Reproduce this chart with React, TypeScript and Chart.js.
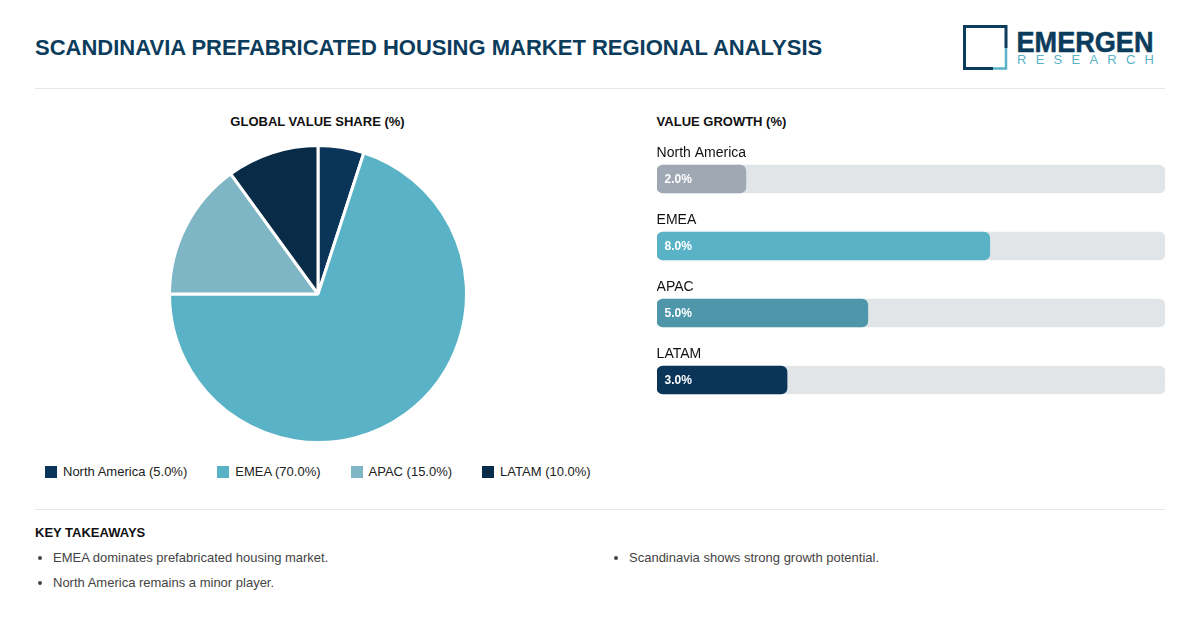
import React, { useEffect, useRef } from 'react';
import { Chart, registerables } from 'chart.js';

Chart.register(...registerables);

const FONT = '"Liberation Sans", Arial, sans-serif';

const title = 'SCANDINAVIA PREFABRICATED HOUSING MARKET REGIONAL ANALYSIS';

const regions = ['North America', 'EMEA', 'APAC', 'LATAM'];
const shareValues = [5, 70, 15, 10];
const shareColors = ['#0a3558', '#5ab2c6', '#7fb6c6', '#082c47'];

const growthValues = [2, 8, 5, 3];
// bar lengths as drawn in the picture, percent of the track
const growthFill = [17.5, 65.5, 41.5, 25.6];
const growthTrack = [100, 100, 100, 100];
const growthColors = ['#9fa8b3', '#5ab2c6', '#4e97aa', '#0a3558'];

const takeawaysLeft = [
  'EMEA dominates prefabricated housing market.',
  'North America remains a minor player.',
];
const takeawaysRight = ['Scandinavia shows strong growth potential.'];

const box = (left: number, top: number, extra: React.CSSProperties = {}): React.CSSProperties => ({
  position: 'absolute',
  left,
  top,
  whiteSpace: 'nowrap',
  ...extra,
});

// region name above each bar, value inside it
const barLabels = {
  id: 'barLabels',
  afterDatasetsDraw(chart: Chart) {
    const { ctx } = chart;
    const bars = chart.getDatasetMeta(0).data;
    ctx.save();
    ctx.textBaseline = 'middle';
    bars.forEach((bar: any, i: number) => {
      ctx.textAlign = 'left';
      ctx.font = `14px ${FONT}`;
      ctx.fillStyle = '#111111';
      ctx.fillText(regions[i], -0.4, bar.y - 26);
      ctx.font = `bold 12px ${FONT}`;
      ctx.fillStyle = '#ffffff';
      ctx.fillText(`${growthValues[i].toFixed(1)}%`, 7.6, bar.y + 1);
    });
    ctx.restore();
  },
};

const ShareChart: React.FC = () => {
  const ref = useRef<HTMLCanvasElement>(null);

  useEffect(() => {
    if (!ref.current) return;
    const chart = new Chart(ref.current, {
      type: 'pie',
      data: {
        labels: regions,
        datasets: [
          {
            data: shareValues,
            backgroundColor: shareColors,
            borderColor: '#ffffff',
            borderWidth: 3,
          },
        ],
      },
      options: {
        responsive: false,
        animation: false,
        layout: { padding: 0 },
        plugins: { legend: { display: false }, tooltip: { enabled: false } },
      },
    });
    return () => chart.destroy();
  }, []);

  return <canvas ref={ref} width={300} height={300} style={box(168, 144, { display: 'block' })} />;
};

const GrowthChart: React.FC = () => {
  const ref = useRef<HTMLCanvasElement>(null);

  useEffect(() => {
    if (!ref.current) return;
    const chart = new Chart(ref.current, {
      type: 'bar',
      data: {
        labels: regions,
        datasets: [
          {
            data: growthFill,
            backgroundColor: growthColors,
            borderRadius: 6,
            borderSkipped: false,
            barThickness: 28,
            order: 0,
          },
          {
            data: growthTrack,
            backgroundColor: '#e2e5e8',
            borderRadius: 6,
            borderSkipped: false,
            barThickness: 28,
            order: 1,
          },
        ],
      },
      options: {
        indexAxis: 'y',
        responsive: false,
        animation: false,
        layout: { padding: { top: 5.5, bottom: 6.5, left: 0, right: 0 } },
        scales: {
          x: { display: false, min: 0, max: 100, stacked: false },
          y: { display: false, stacked: true },
        },
        plugins: { legend: { display: false }, tooltip: { enabled: false } },
      },
      plugins: [barLabels],
    });
    return () => chart.destroy();
  }, []);

  return <canvas ref={ref} width={508} height={280} style={box(657, 140, { display: 'block' })} />;
};

const Logo: React.FC = () => (
  <svg width={200} height={50} style={box(961, 23)}>
    <path d="M45 25 V3.5 H3.5 V45.5 H32" fill="none" stroke="#0c3c5c" strokeWidth={3} />
    <path d="M45 25 V45.5 H32" fill="none" stroke="#5ab2c6" strokeWidth={2.5} />
    <text x={55.5} y={29} textLength={137} lengthAdjust="spacingAndGlyphs" fontFamily={FONT} fontWeight="bold" fontSize={29} fill="#0c3c5c" stroke="#0c3c5c" strokeWidth={0.5}>
      EMERGEN
    </text>
    <text x={56} y={41} textLength={137} fontFamily={FONT} fontSize={13} fill="#5ab2c6">
      RESEARCH
    </text>
  </svg>
);

const Takeaways: React.FC<{ items: string[]; left: number }> = ({ items, left }) => (
  <ul style={box(left, 545, { margin: 0, paddingLeft: 18, fontSize: 13, color: '#444444', lineHeight: '25px' })}>
    {items.map(t => (
      <li key={t}>{t}</li>
    ))}
  </ul>
);

export default function App() {
  useEffect(() => {
    document.body.style.margin = '0';
  }, []);

  return (
    <div style={{ position: 'relative', width: 1200, height: 620, background: '#ffffff', fontFamily: FONT, overflow: 'hidden' }}>
      <div style={box(35, 34, { fontSize: 22, lineHeight: '28px', fontWeight: 'bold', color: '#0c3c5c' })}>{title}</div>
      <Logo />
      <div style={box(35, 88, { width: 1130, height: 1, background: '#e5e7eb' })} />

      <div style={box(35, 114, { width: 565, textAlign: 'center', fontSize: 13, lineHeight: '16px', fontWeight: 'bold', color: '#111111' })}>
        GLOBAL VALUE SHARE (%)
      </div>
      <ShareChart />
      <div style={box(45, 464, { display: 'flex', gap: 30, fontSize: 13, lineHeight: '16px', color: '#222222' })}>
        {regions.map((r, i) => (
          <div key={r} style={{ display: 'flex', alignItems: 'center', gap: 6 }}>
            <span style={{ width: 12, height: 12, background: shareColors[i], display: 'block' }} />
            <span>{`${r} (${shareValues[i].toFixed(1)}%)`}</span>
          </div>
        ))}
      </div>

      <div style={box(656.6, 114, { fontSize: 13, lineHeight: '16px', fontWeight: 'bold', color: '#111111' })}>VALUE GROWTH (%)</div>
      <GrowthChart />

      <div style={box(35, 509, { width: 1130, height: 1, background: '#e5e7eb' })} />
      <div style={box(35, 525, { fontSize: 13, lineHeight: '16px', fontWeight: 'bold', color: '#111111' })}>KEY TAKEAWAYS</div>
      <Takeaways items={takeawaysLeft} left={35} />
      <Takeaways items={takeawaysRight} left={611} />
    </div>
  );
}
